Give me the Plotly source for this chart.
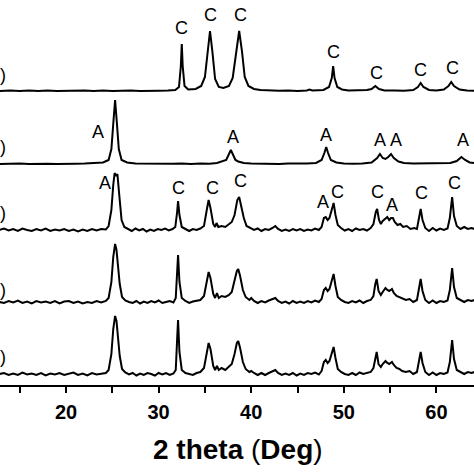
import plotly.graph_objects as go

# ---------------- data (2theta in degrees, intensity in arbitrary units) -------------
offsets = [294, 221, 155, 83, 11]

t1_x = [12.8, 14, 15, 16, 17, 18, 19, 20, 21, 22, 23, 24, 25, 26, 27, 28, 29, 30, 31, 31.8, 32.2, 32.4, 32.5,
        32.6, 32.8, 33.2, 34.0, 34.6, 35.0, 35.3, 35.55, 35.8, 36.1, 36.5, 37.0, 37.6, 38.0, 38.4, 38.7, 39.0,
        39.3, 39.7, 40.3, 41, 42, 43, 44, 45, 46, 46.3, 46.6, 47, 47.8, 48.4, 48.7, 48.85, 49.0, 49.3, 49.8,
        50.5, 51.5, 52.5, 53.0, 53.4, 53.8, 54.4, 55.5, 56.5, 57.5, 58.0, 58.3, 58.6, 59.2, 60.0, 60.8, 61.3,
        61.6, 61.9, 62.5, 63.3, 64.1]
t1_y = [0, 0.5, 0, 0.5, 0, 0.5, 0, 0.3, 0, 0.5, 0, 0.5, 0, 0.3, 0.5, 0, 0.5, 0.3, 0.5, 1, 4, 25, 47,
        25, 5, 1.5, 2, 5, 14, 40, 60, 40, 12, 4, 3, 5, 13, 40, 60, 40,
        14, 5, 2, 1, 0.5, 0.3, 0.5, 0, 0.5, 1.5, 0.5, 0.5, 1, 4, 13, 25, 13, 4, 1.5,
        0.5, 0.5, 1, 2, 5, 2, 0.5, 0.5, 0.3, 1, 4, 8, 4, 1, 0.5, 1.5, 5,
        9, 5, 1.5, 0.5, 0.3]

t2_x = [12.8, 14, 15, 16, 17, 18, 19, 20, 21, 22, 23, 24, 24.6, 24.9, 25.1, 25.3, 25.5, 25.7, 26.0, 26.6,
        27.5, 28.5, 29.5, 30.5, 31.5, 32.5, 33.5, 34.5, 35.5, 36.3, 36.9, 37.3, 37.6, 37.8, 38.0, 38.3, 38.6,
        39.2, 40, 41, 42, 43, 44, 45, 46, 47, 47.6, 47.9, 48.1, 48.3, 48.6, 49.2, 50, 51, 52, 53, 53.6, 53.9,
        54.2, 54.5, 54.8, 55.1, 55.4, 55.9, 56.5, 57.5, 58.5, 59.5, 60.5, 61.5, 62.2, 62.7, 63.1, 63.6, 64.1]
t2_y = [0, 0.3, 0.5, 0, 0.5, 0.3, 0, 0.5, 0.3, 0.5, 0.8, 1.5, 4, 15, 40, 64, 40, 15, 4, 1.5,
        0.5, 0.3, 0.5, 0, 0.3, 0.5, 0, 0.5, 0.3, 1, 3, 4, 10, 14, 10, 4, 2.5,
        1, 0.5, 0.3, 0.5, 0, 0.5, 0.3, 0.5, 1, 4, 11, 17, 11, 4, 1.5, 0.5, 0.3, 0.5, 1.5, 6, 10,
        6, 5, 7, 10, 6, 2.5, 1, 0.5, 0.5, 0.3, 0.5, 1, 3, 7, 4, 1.5, 1]

t3_x = [12.8, 13.3, 13.8, 14.3, 14.8, 15.3, 15.8, 16.3, 16.8, 17.3, 17.8, 18.3, 18.8, 19.3, 19.8, 20.3, 20.8,
        21.3, 21.8, 22.3, 22.8, 23.3, 23.8, 24.3, 24.6, 24.9, 25.1, 25.25, 25.4, 25.55, 25.75, 26.0, 26.3,
        26.7, 27.1, 27.5, 27.9, 28.3, 28.7, 29.1, 29.5, 29.9, 30.3, 30.7, 31.1, 31.5, 31.8, 32.0, 32.1,
        32.25, 32.5, 32.9, 33.3, 33.7, 34.1, 34.5, 34.9, 35.2, 35.4, 35.6, 35.9, 36.1, 36.25, 36.45, 36.8,
        37.2, 37.6, 37.9, 38.2, 38.5, 38.7, 38.9, 39.2, 39.5, 39.9, 40.3, 40.7, 41.1, 41.5, 41.9, 42.3,
        42.6, 42.9, 43.3, 43.7, 44.1, 44.5, 44.9, 45.3, 45.7, 46.1, 46.5, 46.9, 47.3, 47.6, 47.85, 48.05,
        48.25, 48.45, 48.7, 48.9, 49.1, 49.35, 49.7, 50.1, 50.5, 50.9, 51.3, 51.7, 52.1, 52.5, 52.9, 53.2,
        53.45, 53.6, 53.8, 54.0, 54.2, 54.5, 54.7, 54.9, 55.1, 55.3, 55.5, 55.8, 56.1, 56.4, 56.8, 57.2,
        57.6, 57.9, 58.1, 58.3, 58.5, 58.8, 59.2, 59.6, 60.0, 60.4, 60.8, 61.2, 61.45, 61.7, 61.9, 62.2,
        62.6, 63.0, 63.4, 63.8, 64.1]
t3_y = [0, 1.5, -0.5, 1, -1, 1.5, 0, -1, 1, -0.5, 1.5, -1, 0.5, -0.5, 1, -1, 0.5,
        -1.5, 0.5, -1, 1, -0.5, 1, 0.5, 4, 20, 45, 57, 54, 56, 35, 10, 3,
        1, -1, 1.5, -0.5, 1, -1.5, 0.5, -1, 1, 0, 1.5, -0.5, 1, 3, 18, 29,
        15, 3, 1, -1, 1, 0, 1.5, 4, 20, 30, 22, 6, 3, 7, 3, 4,
        3, 6, 8, 15, 30, 33, 25, 12, 4, 2, 0, 1.5, -1, 1, 0, 2,
        4, 1, -1, 0.5, -1, 1, -0.5, 1, -1, 0.5, -0.5, 1.5, 0, 3, 12, 13,
        10, 12, 22, 27, 15, 5, 2, -0.5, 1, -1, 1.5, 0, 1, -0.5, 2, 6,
        18, 21, 10, 6, 9, 12, 13, 10, 12, 12, 8, 5, 6, 3, 4, 1,
        2, 1, 10, 21, 10, 2, -1, 2, -0.5, 1.5, 0, 1.5, 12, 33, 14, 4,
        1, 3, 1, 2, 1]

t4_x = [12.8, 13.3, 13.8, 14.3, 14.8, 15.3, 15.8, 16.3, 16.8, 17.3, 17.8, 18.3, 18.8, 19.3, 19.8, 20.3, 20.8,
        21.3, 21.8, 22.3, 22.8, 23.3, 23.8, 24.3, 24.6, 24.9, 25.1, 25.3, 25.45, 25.6, 25.8, 26.05, 26.4,
        26.8, 27.2, 27.6, 28.0, 28.4, 28.8, 29.2, 29.6, 30.0, 30.4, 30.8, 31.2, 31.6, 31.85, 32.0, 32.1,
        32.25, 32.5, 32.9, 33.3, 33.7, 34.1, 34.5, 34.9, 35.2, 35.4, 35.6, 35.9, 36.1, 36.3, 36.5, 36.8,
        37.2, 37.6, 37.9, 38.2, 38.45, 38.6, 38.8, 39.1, 39.4, 39.8, 40.0, 40.3, 40.7, 41.1, 41.5, 41.9,
        42.3, 42.6, 42.9, 43.3, 43.7, 44.1, 44.5, 44.9, 45.3, 45.7, 46.1, 46.5, 46.9, 47.3, 47.6, 47.85,
        48.05, 48.25, 48.45, 48.7, 48.9, 49.1, 49.35, 49.7, 50.1, 50.5, 50.9, 51.3, 51.7, 52.1, 52.5, 52.9,
        53.2, 53.4, 53.55, 53.75, 54.0, 54.2, 54.5, 54.7, 54.9, 55.2, 55.4, 55.7, 56.0, 56.3, 56.7, 57.1,
        57.5, 57.9, 58.1, 58.3, 58.5, 58.8, 59.2, 59.6, 60.0, 60.4, 60.8, 61.2, 61.45, 61.7, 61.9, 62.2,
        62.6, 63.0, 63.4, 63.8, 64.1]
t4_y = [0, -1, 1, -0.5, 1.5, -1, 0.5, -1.5, 1, -0.5, 0.5, -1, 1, -1.5, 0.5, 1, -1,
        0.5, -1.5, 0, -1, 1, -0.5, 1, 4, 20, 45, 58, 52, 40, 18, 5, 1.5,
        0, -1, 1, -1.5, 0.5, -1, 1, -0.5, 1.5, -1, 0, 1, -0.5, 4, 30, 47,
        20, 4, 1, -1, 0.5, 1, 2, 6, 22, 30, 24, 8, 4, 9, 4, 6,
        5, 7, 10, 20, 31, 33, 26, 12, 5, 2, 4, 1, -1, 1, -0.5, 1.5,
        2.5, 4, 1, -1, 0.5, -1.5, 1, -1, 0.5, -1, 1, -0.5, 1.5, 0, 3, 12,
        14, 11, 13, 23, 28, 16, 5, 2, 0, -1, 1, -0.5, 1.5, -1, 1, 2,
        6, 18, 23, 11, 7, 10, 14, 12, 11, 13, 9, 6, 5, 4, 2, 3,
        0, 2, 11, 23, 11, 2, -1, 1.5, -1, 1, 0, 1.5, 12, 34, 15, 4,
        2, 0, 2, 1, 2]

t5_x = [12.8, 13.3, 13.8, 14.3, 14.8, 15.3, 15.8, 16.3, 16.8, 17.3, 17.8, 18.3, 18.8, 19.3, 19.8, 20.3, 20.8,
        21.3, 21.8, 22.3, 22.8, 23.3, 23.8, 24.3, 24.6, 24.9, 25.1, 25.3, 25.45, 25.6, 25.8, 26.05, 26.4,
        26.8, 27.2, 27.6, 28.0, 28.4, 28.8, 29.2, 29.6, 30.0, 30.4, 30.8, 31.2, 31.6, 31.85, 32.0, 32.1,
        32.25, 32.5, 32.9, 33.3, 33.7, 34.1, 34.5, 34.9, 35.2, 35.4, 35.6, 35.9, 36.1, 36.3, 36.5, 36.8,
        37.2, 37.6, 37.9, 38.2, 38.45, 38.6, 38.8, 39.1, 39.4, 39.8, 40.0, 40.3, 40.7, 41.1, 41.5, 41.9,
        42.3, 42.6, 42.9, 43.3, 43.7, 44.1, 44.5, 44.9, 45.3, 45.7, 46.1, 46.5, 46.9, 47.3, 47.6, 47.85,
        48.05, 48.25, 48.45, 48.7, 48.9, 49.1, 49.35, 49.7, 50.1, 50.5, 50.9, 51.3, 51.7, 52.1, 52.5, 52.9,
        53.2, 53.4, 53.55, 53.75, 54.0, 54.2, 54.5, 54.7, 54.9, 55.2, 55.4, 55.7, 56.0, 56.3, 56.7, 57.1,
        57.5, 57.9, 58.1, 58.3, 58.5, 58.8, 59.2, 59.6, 60.0, 60.4, 60.8, 61.2, 61.45, 61.7, 61.9, 62.2,
        62.6, 63.0, 63.4, 63.8, 64.1]
t5_y = [0, 1, -1, 0.5, -1, 1.5, -0.5, 0.5, -1, 1, -1.5, 0.5, -0.5, 1, -1, 0, 1.5,
        -1, 0.5, -1.5, 1, -0.5, 0.5, 1, 4, 20, 45, 58, 53, 40, 18, 5, 1.5,
        -0.5, 1, -1.5, 0.5, -1, 1, 0, -1.5, 1, -0.5, 1, -1, 0.5, 4, 35, 54,
        22, 4, 1, 0, -1, 1, 2, 6, 22, 31, 25, 8, 4, 8, 4, 6,
        4, 7, 10, 20, 31, 33, 26, 12, 5, 2, 3, 1, -1, 1, -1, 1,
        2.5, 4, 1, -1, 0.5, -1, 1, -1.5, 0.5, -1, 1, 0, 1.5, -0.5, 3, 12,
        14, 11, 13, 22, 27, 16, 5, 2, 0, -1, 1, -1, 1.5, 0, 1, 2,
        6, 17, 22, 10, 7, 10, 13, 11, 10, 12, 9, 6, 5, 3, 2, 3,
        0, 2, 11, 22, 11, 2, -1, 1.5, -1, 1, 0, 1.5, 12, 34, 15, 4,
        2, 0, 2, 1, 2]

traces_x = [t1_x, t2_x, t3_x, t4_x, t5_x]
traces_y = [t1_y, t2_y, t3_y, t4_y, t5_y]

# peak labels (phase letter, 2theta position, vertical position)
label_text = ["C", "C", "C", "C", "C", "C", "C",
              "A", "A", "A", "A", "A", "A",
              "A", "C", "C", "C", "A", "C", "C", "A", "C", "C"]
label_x = [32.5, 35.6, 38.8, 48.9, 53.5, 58.3, 61.7,
           23.5, 38.0, 48.1, 53.9, 55.6, 62.9,
           24.2, 32.1, 35.8, 38.8, 47.75, 49.3, 53.6, 55.2, 58.4, 62.0]
label_y = [357, 370, 370, 333, 312, 315, 317,
           253, 248, 250, 245, 245, 245,
           202, 197, 197, 204, 183, 193, 193, 180, 192, 202]

# sample-name endings (the names are cut off at the left edge in the original)
sample_names = [")", ")", ")", ")", ")"]
sample_y = [310, 238, 172, 95, 28]

tick_vals = [20, 30, 40, 50, 60]
tick_text = ["20", "30", "40", "50", "60"]

# ---------------- figure ----------------
font_family = "Liberation Sans, Arial, sans-serif"

fig = go.Figure()
for i in range(5):
    fig.add_trace(go.Scatter(
        x=traces_x[i],
        y=[offsets[i] + v for v in traces_y[i]],
        mode="lines",
        line=dict(color="black", width=2),
        showlegend=False,
        hoverinfo="skip",
    ))

for t, xv, yv in zip(label_text, label_x, label_y):
    fig.add_annotation(x=xv, y=yv, text=t, showarrow=False,
                       font=dict(family=font_family, size=18, color="black"),
                       xanchor="center", yanchor="middle")

for t, yv in zip(sample_names, sample_y):
    fig.add_annotation(x=0, xref="paper", y=yv, yref="y", text=t, showarrow=False,
                       xanchor="left", xshift=-2, yanchor="middle",
                       font=dict(family=font_family, size=18, color="black"))

fig.add_annotation(x=0.502, xref="paper", y=-0.168, yref="paper",
                   text="<b>2 theta</b> (<b>Deg</b>)", showarrow=False,
                   xanchor="center", yanchor="middle",
                   font=dict(family=font_family, size=28, color="black"))

fig.update_layout(
    width=474, height=474,
    margin=dict(l=0, r=0, t=0, b=89),
    paper_bgcolor="white", plot_bgcolor="white",
    xaxis=dict(range=[12.87, 64.06], showgrid=False, zeroline=False,
               showline=True, linecolor="black", linewidth=1.5,
               tickmode="array", tickvals=tick_vals, ticktext=tick_text,
               ticks="outside", ticklen=6, tickwidth=1.5, tickcolor="black",
               ticklabelstandoff=2,
               tickfont=dict(family=font_family, size=20, color="black", weight="bold"),
               minor=dict(tickmode="array", tickvals=[15, 25, 35, 45, 55, 65],
                          ticks="outside", ticklen=6, tickwidth=1.5, tickcolor="black")),
    yaxis=dict(range=[0, 385], visible=False, showgrid=False, zeroline=False),
)

fig.write_html("out.html",
               config={"displayModeBar": False},
               post_script="document.body.style.margin='0';document.body.style.padding='0';"
                           "document.body.style.overflow='hidden';")
